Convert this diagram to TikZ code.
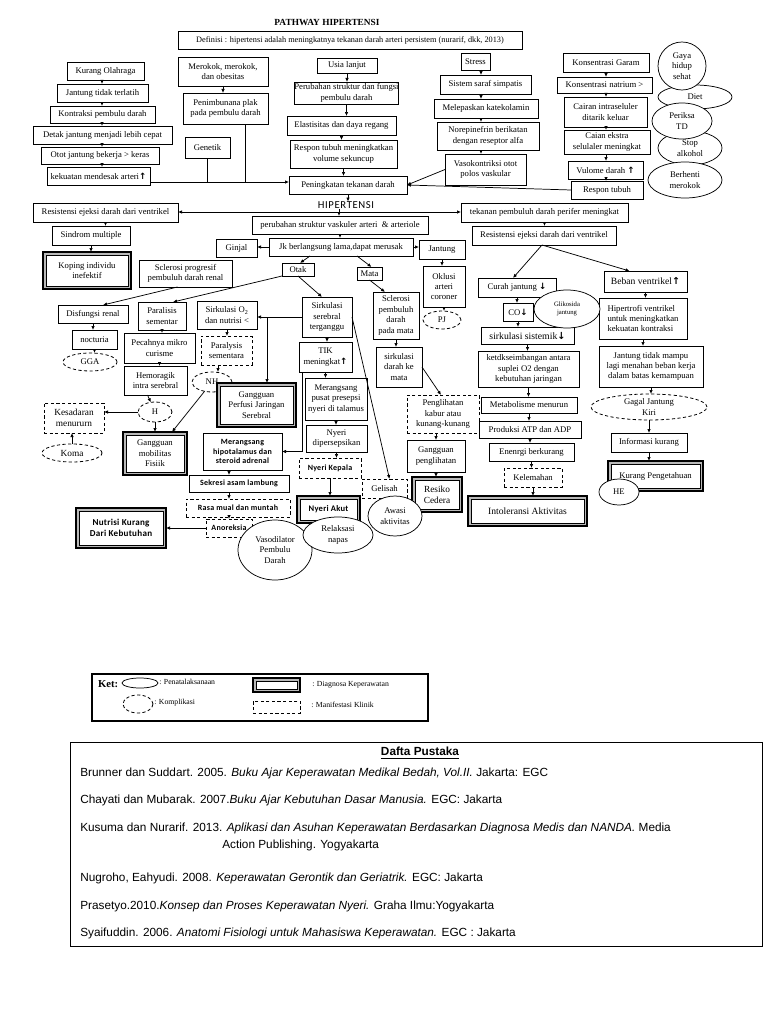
\documentclass[tikz,border=0pt]{standalone}
\usepackage{fontspec}
\setmainfont{Liberation Serif}
\newfontfamily\arial{Liberation Sans}
\newfontfamily\calib[LetterSpace=3]{Carlito}
\newfontfamily\hipf[LetterSpace=6]{Carlito}
\newfontfamily\symf{DejaVu Sans}
\usetikzlibrary{shapes.geometric,arrows.meta,calc}
\newcommand\fs[2]{\fontsize{#1}{#2}\selectfont}
\newcommand\arwup{{\symf\bfseries ↑}}
\newcommand\arwdn{{\symf\bfseries ↓}}
\newcommand\bx[7]{\node[#2,minimum width={(#5-#3)*0.75pt},minimum height={(#6-#4)*0.75pt}] (#1) at ({(#3+#5)/2},{(#4+#6)/2}) {#7};}
\newcommand\el[7]{\node[#2,minimum width={2*#5*0.75pt},minimum height={2*#6*0.75pt}] (#1) at (#3,#4) {#7};}
\newcommand\adn[2]{\draw[arr] (#1.south) -- (#1.south |- #2.north);}
\tikzset{
 base/.style={font=\fs{6.5}{7.8}, align=center, inner sep=0pt, outer sep=0pt},
 box/.style={base, draw, line width=0.55pt, fill=white},
 dbox/.style={base, draw, line width=0.6pt, dash pattern=on 2.4pt off 1.8pt, fill=white},
 dx/.style={base, draw, line width=1.9pt, fill=white,
   path picture={
     \draw[gray!55,line width=1.1pt] ([shift={(1.5pt,-1.5pt)}]path picture bounding box.north west) rectangle ([shift={(-1.5pt,1.5pt)}]path picture bounding box.south east);
     \draw[line width=0.5pt] ([shift={(2.3pt,-2.3pt)}]path picture bounding box.north west) rectangle ([shift={(-2.3pt,2.3pt)}]path picture bounding box.south east);}},
 pen/.style={base, ellipse, draw, line width=0.55pt, fill=white},
 kom/.style={base, ellipse, draw, line width=0.6pt, dash pattern=on 2.4pt off 1.8pt, fill=white},
 bsans/.style={font=\calib\bfseries\fs{6}{7.2}},
 arr/.style={-{Latex[length=3pt,width=2.6pt]}, line width=0.55pt},
 ln/.style={line width=0.55pt},
 bib/.style={font=\arial\fs{8.85}{10}, anchor=west, inner sep=0pt},
 lg/.style={font=\fs{5.8}{7}, anchor=west, inner sep=0pt}
}
\begin{document}
\begin{tikzpicture}[x=0.75pt,y=-0.75pt]
\useasboundingbox (0,0) rectangle (768,1024);
\fill[white] (0,0) rectangle (768,1024);

\node[base,font=\bfseries\fs{7}{8}] (title) at (327,22) {PATHWAY HIPERTENSI};
\bx{def}{box,font=\fs{6.2}{7}}{178}{31}{522}{49}{Definisi : hipertensi adalah meningkatnya tekanan darah arteri persistem (nurarif, dkk, 2013)}

% left chain
\bx{kurang}{box}{67}{62}{144}{80}{Kurang Olahraga}
\bx{jtt}{box}{57}{84}{148}{102}{Jantung tidak terlatih}
\bx{kontraksi}{box}{50}{106}{155}{123}{Kontraksi pembulu darah}
\bx{detak}{box}{33}{126}{172}{144}{Detak jantung menjadi lebih cepat}
\bx{otot}{box}{41}{147}{159}{164}{Otot jantung bekerja > keras}
\bx{kekuatan}{box}{47}{167}{150}{185}{kekuatan mendesak arteri\arwup}
\bx{merokok}{box}{178}{57}{268}{86}{Merokok, merokok,\\dan obesitas}
\bx{penimb}{box}{183}{93}{268}{124}{Penimbunana plak\\pada pembulu darah}
\bx{genetik}{box}{185}{137}{230}{158}{Genetik}
\bx{usia}{box}{317}{58}{377}{73}{Usia lanjut}
\bx{perubahan}{box}{297}{82}{396}{104}{Perubahan struktur dan fungsi\\pembulu darah}
\bx{elast}{box}{287}{116}{396}{135}{Elastisitas dan daya regang}
\bx{respon1}{box}{290}{140}{397}{168}{Respon tubuh meningkatkan\\volume sekuncup}
\bx{pening}{box}{289}{176}{407}{194}{Peningkatan tekanan darah}
\bx{stress}{box}{461}{53}{490}{70}{Stress}
\bx{simpatis}{box}{440}{75}{531}{94}{Sistem saraf simpatis}
\bx{katekol}{box}{434}{99}{538}{118}{Melepaskan katekolamin}
\bx{norep}{box}{437}{122}{539}{150}{Norepinefrin berikatan\\dengan reseptor alfa}
\bx{vaso}{box}{445}{154}{526}{185}{Vasokontriksi otot\\polos vaskular}
\bx{garam}{box}{563}{53}{649}{72}{Konsentrasi Garam}
\bx{natrium}{box}{557}{77}{652}{93}{Konsentrasi natrium >}
\bx{intra}{box}{564}{97}{647}{127}{Cairan intraseluler\\ditarik keluar}
\bx{ekstra}{box}{564}{130}{650}{154}{Caian ekstra\\selulaler meningkat}
\bx{volume}{box}{568}{161}{643}{179}{Vulome darah \arwup}
\bx{respon2}{box}{571}{181}{643}{199}{Respon tubuh}

\node[base,font=\hipf\fs{8}{9}] (hip) at (346,205) {HIPERTENSI};

% middle
\bx{resL}{box}{33}{203}{178}{222}{Resistensi ejeksi darah dari ventrikel}
\bx{tekanan}{box}{461}{203}{628}{222}{tekanan pembuluh darah perifer meningkat}
\bx{resR}{box}{472}{226}{616}{245}{Resistensi ejeksi darah dari ventrikel}
\bx{sindrom}{box}{52}{226}{130}{245}{Sindrom multiple}
\bx{koping}{dx}{43}{252}{131}{289}{Koping individu\\inefektif}
\bx{vask}{box}{252}{216}{428}{234}{perubahan struktur vaskuler arteri \ \& arteriole}
\bx{jk}{box}{269}{238}{413}{256}{Jk berlangsung lama,dapat merusak}
\bx{ginjal}{box}{216}{239}{257}{257}{Ginjal}
\bx{jantung}{box}{419}{240}{465}{259}{Jantung}
\bx{otak}{box}{282}{263}{314}{276}{Otak}
\bx{mata}{box}{357}{267}{382}{280}{Mata}
\bx{oklusi}{box}{423}{266}{465}{307}{Oklusi\\arteri\\coroner}
\el{pj}{kom}{442}{320}{19}{9}{PJ}
\bx{sclren}{box}{139}{260}{232}{287}{Sclerosi progresif\\pembuluh darah renal}
\bx{disf}{box}{58}{305}{128}{323}{Disfungsi renal}
\bx{noct}{box}{72}{330}{117}{349}{nocturia}
\el{gga}{kom}{90}{362}{27}{9}{GGA}
\bx{paralisis}{box}{138}{302}{186}{330}{Paralisis\\sementar}
\bx{sirkO}{box}{197}{301}{257}{329}{Sirkulasi O\textsubscript{2}\\dan nutrisi <}
\bx{pecah}{box}{124}{333}{195}{363}{Pecahnya mikro\\curisme}
\bx{parsem}{dbox}{201}{336}{252}{365}{Paralysis\\sementara}
\bx{hemo}{box}{124}{366}{187}{395}{Hemoragik\\intra serebral}
\el{nh}{kom}{212}{382}{20}{10}{NH}
\el{hh}{kom}{155}{412}{17}{10}{H}
\bx{kesad}{dbox,font=\fs{7}{8.4}}{44}{403}{104}{433}{Kesadaran\\menururn}
\el{koma}{kom,font=\fs{7}{8}}{72}{453}{30}{9}{Koma}
\bx{mobil}{dx}{123}{432}{187}{475}{Gangguan\\mobilitas\\Fisiik}
\bx{perfusi}{dx}{217}{383}{296}{427}{Gangguan\\Perfusi Jaringan\\Serebral}
\bx{sirkser}{box}{302}{297}{352}{337}{Sirkulasi\\serebral\\terganggu}
\bx{tik}{box}{299}{342}{352}{372}{TIK\\meningkat\arwup}
\bx{pusat}{box}{305}{378}{367}{420}{Merangsang\\pusat presepsi\\nyeri di talamus}
\bx{nyeridp}{box}{306}{425}{367}{452}{Nyeri\\dipersepsikan}
\bx{kepala}{dbox,bsans}{299}{458}{361}{478}{Nyeri Kepala}
\bx{hipot}{box,bsans}{203}{433}{282}{470}{Merangsang\\hipotalamus dan\\steroid adrenal}
\bx{sekresi}{box,bsans}{189}{475}{289}{492}{Sekresi asam lambung}
\bx{mual}{dbox,bsans}{186}{499}{290}{517}{Rasa mual dan muntah}
\bx{anor}{dbox,bsans}{206}{519}{252}{537}{Anoreksia}
\bx{nutrisi}{dx,bsans,font=\calib\bfseries\fs{6.8}{8.4}}{76}{508}{166}{548}{Nutrisi Kurang\\Dari Kebutuhan}
\bx{nyeriakut}{dx,bsans,font=\calib\bfseries\fs{6.4}{7.6}}{297}{496}{360}{523}{Nyeri Akut}
\bx{gelisah}{dbox}{362}{479}{407}{498}{Gelisah}
\bx{sclmata}{box}{373}{292}{419}{339}{Sclerosi\\pembuluh\\darah\\pada mata}
\bx{sirkmata}{box}{376}{347}{422}{387}{sirkulasi\\darah ke\\mata}
\bx{kabur}{dbox}{407}{395}{479}{433}{Penglihatan\\kabur atau\\kunang-kunang}
\bx{gpengl}{box}{407}{440}{465}{472}{Gangguan\\penglihatan}
\bx{cedera}{dx,font=\fs{7}{8.4}}{412}{477}{462}{512}{Resiko\\Cedera}

% right
\bx{curah}{box}{478}{278}{556}{297}{Curah jantung \arwdn}
\bx{co}{box}{503}{303}{533}{321}{CO\arwdn}
\bx{sistemik}{box,font=\fs{7.3}{8}}{481}{327}{574}{344}{sirkulasi sistemik\arwdn}
\bx{ketdk}{box}{478}{351}{579}{387}{ketdkseimbangan antara\\suplei O2 dengan\\kebutuhan jaringan}
\bx{metab}{box}{481}{397}{577}{413}{Metabolisme menurun}
\bx{atp}{box}{479}{421}{581}{438}{Produksi ATP dan ADP}
\bx{energi}{box}{489}{443}{574}{461}{Enenrgi berkurang}
\bx{lemah}{dbox}{504}{468}{562}{487}{Kelemahan}
\bx{intol}{dx,font=\fs{7.2}{8}}{468}{496}{587}{526}{Intoleransi Aktivitas}
\bx{beban}{box,font=\fs{7.2}{8}}{604}{271}{687}{292}{Beban ventrikel\arwup}
\bx{hipertrofi}{box,align=left}{599}{298}{687}{339}{Hipertrofi ventrikel\\untuk meningkatkan\\kekuatan kontraksi}
\bx{jtm}{box}{599}{346}{703}{387}{Jantung tidak mampu\\lagi menahan beban kerja\\dalam batas kemampuan}
\el{gagal}{kom}{649}{407}{58}{13}{Gagal Jantung\\Kiri}
\bx{info}{box}{611}{433}{687}{452}{Informasi kurang}
\bx{kurangp}{dx}{608}{461}{703}{491}{Kurang Pengetahuan}

% connectors
\coordinate (xl) at (102,0);
\foreach \p/\q in {kurang/jtt,jtt/kontraksi,kontraksi/detak,detak/otot,otot/kekuatan}
  \draw[arr] (\p.south -| xl) -- (\q.north -| xl);
\adn{merokok}{penimb}
\path (kekuatan.east) ++(0,6) coordinate (kk);
\draw[arr] (kk) -- (kk -| pening.west);
\draw[ln] (genetik.south) -- (genetik.south |- kk);
\coordinate (pb) at ([shift={(20,0)}]penimb.south);
\draw[ln] (pb) -- (pb |- kk);
\adn{usia}{perubahan}
\adn{perubahan}{elast}
\adn{elast}{respon1}
\adn{respon1}{pening}
\coordinate (xs) at (481,0);
\foreach \p/\q in {stress/simpatis,simpatis/katekol,katekol/norep,norep/vaso}
  \draw[arr] (\p.south -| xs) -- (\q.north -| xs);
\draw[arr] (vaso.west) -- (pening.east);
\draw[arr] (respon2.west) -- (pening.east);
\coordinate (xg) at (606,0);
\foreach \p/\q in {garam/natrium,natrium/intra,intra/ekstra,ekstra/volume,volume/respon2}
  \draw[arr] (\p.south -| xg) -- (\q.north -| xg);
\draw[arr] (pening.south) -- (pening.south |- hip.north);
\coordinate (hj) at (346,212);
\draw[arr] (hj) -- (hj -| resL.east);
\draw[arr] (hj) -- (hj -| tekanan.west);
\coordinate (hv) at (339,209);
\draw[arr] (hv) -- (hv |- vask.north);
\adn{vask}{jk}
\draw[arr] (jk.west) -- (jk.west -| ginjal.east);
\draw[arr] (jk.east) -- (jk.east -| jantung.west);
\draw[arr] ([shift={(-31,0)}]jk.south) -- ([shift={(2,0)}]otak.north);
\draw[arr] ([shift={(16,0)}]jk.south) -- ([shift={(2,0)}]mata.north);
\draw[arr] (otak.south west) -- ([shift={(11,0)}]paralisis.north);
\draw[arr] (otak.south) -- ([shift={(-5,0)}]sirkser.north);
\draw[arr] ([shift={(-8,0)}]sclren.south) -- ([shift={(10,0)}]disf.north);
\adn{disf}{noct}
\adn{noct}{gga}
\adn{resL}{sindrom}
\adn{sindrom}{koping}
\adn{paralisis}{pecah}
\adn{pecah}{hemo}
\draw[arr] ([shift={(-8,0)}]hemo.south) -- (hh);
\draw[arr] (hh) -- (hh |- mobil.north);
\draw[arr] (hh.west) -- (hh.west -| kesad.east);
\draw[arr] (koma) -- (koma |- kesad.south);
\draw[arr] (nh) -- ([shift={(-15,0)}]mobil.north east);
\draw[arr] (sirkser.west) -- (sirkser.west -| sirkO.east);
\coordinate (j1) at (267,317);
\draw[arr] (j1) -- (j1 |- perfusi.north);
\adn{sirkO}{parsem}
\coordinate (j2) at (218,365);
\draw[arr] (j2) -- (j2 |- nh.north);
\adn{sirkser}{tik}
\adn{tik}{pusat}
\adn{pusat}{nyeridp}
\adn{nyeridp}{kepala}
\adn{kepala}{nyeriakut}
\draw[arr] ([shift={(3,0)}]tik.south west) |- (hipot.east);
\coordinate (xa) at (229,0);
\foreach \p/\q in {hipot/sekresi,sekresi/mual,mual/anor}
  \draw[arr] (\p.south -| xa) -- (\q.north -| xa);
\draw[arr] (anor.west) -- (anor.west -| nutrisi.east);
\draw[arr] (sirkser.east) -- ([shift={(5,0)}]gelisah.north);
\draw[arr] (mata.south) -- ([shift={(-11,0)}]sclmata.north);
\adn{sclmata}{sirkmata}
\draw[arr] (sirkmata.east) -- ([shift={(-2,0)}]kabur.north);
\draw[arr] (kabur.south -| gpengl) -- (gpengl.north);
\adn{gpengl}{cedera}
\adn{jantung}{oklusi}
\adn{oklusi}{pj}
\adn{tekanan}{resR}
\coordinate (rr) at ([shift={(-2,0)}]resR.south);
\draw[arr] (rr) -- ([shift={(-4,0)}]curah.north);
\draw[arr] (rr) -- ([shift={(-16,0)}]beban.north);
\adn{curah}{co}
\adn{co}{sistemik}
\adn{sistemik}{ketdk}
\adn{ketdk}{metab}
\adn{metab}{atp}
\adn{atp}{energi}
\adn{energi}{lemah}
\adn{lemah}{intol}
\adn{beban}{hipertrofi}
\adn{hipertrofi}{jtm}
\adn{jtm}{gagal}
\draw[arr] (gagal) -- (gagal |- info.north);
\adn{info}{kurangp}

% penatalaksanaan ellipses (on top)
\el{diet}{pen}{695}{97}{37}{12}{Diet}
\el{gaya}{pen}{682}{66}{24}{24}{Gaya\\hidup\\sehat}
\el{stop}{pen}{690}{148}{32}{17}{Stop\\alkohol}
\el{berhenti}{pen}{685}{180}{37}{18}{Berhenti\\merokok}
\el{periksa}{pen}{682}{121}{30}{18}{Periksa\\TD}
\el{glik}{pen,font=\fs{5}{6}}{567}{309}{33}{19}{Glikosida\\jantung}
\el{he}{pen}{619}{492}{20}{13}{HE}
\el{vasod}{pen}{275}{550}{37}{30}{Vasodilator\\Pembulu\\Darah}
\el{relaks}{pen}{338}{535}{35}{18}{Relaksasi\\napas}
\el{awasi}{pen}{395}{516}{27}{20}{Awasi\\aktivitas}

% legend
\draw[line width=0.8pt] (92,674) rectangle (428,721);
\node[base,font=\bfseries\fs{8}{9},anchor=west] (ket) at (98,684) {Ket:};
\el{lgpen}{pen}{140}{683}{18}{5}{}
\node[lg] (lt1) at (159,682) {: Penatalaksanaan};
\bx{lgdx}{dx}{253}{678}{300}{692}{}
\node[lg] (lt2) at (312,685) {: Diagnosa Keperawatan};
\el{lgkom}{kom}{138}{704}{15}{9}{}
\node[lg] (lt3) at (154,703) {: Komplikasi};
\bx{lgman}{dbox}{253}{701}{300}{713}{}
\node[lg] (lt4) at (311,705) {: Manifestasi Klinik};

% bibliography
\draw[line width=0.6pt] (70,742) rectangle (762,946);
\node[font=\arial\bfseries\fs{8.85}{10},inner sep=0pt] (dp) at (420,753) {\underline{Dafta Pustaka}};
\node[bib] (b1) at (80,773) {Brunner dan Suddart. 2005. \textit{Buku Ajar Keperawatan Medikal Bedah, Vol.II.} Jakarta: EGC};
\node[bib] (b2) at (80,800) {Chayati dan Mubarak. 2007.\textit{Buku Ajar Kebutuhan Dasar Manusia.} EGC: Jakarta};
\node[bib] (b3) at (80,828) {Kusuma dan Nurarif. 2013. \textit{Aplikasi dan Asuhan Keperawatan Berdasarkan Diagnosa Medis dan NANDA.} Media};
\node[bib] (b3b) at (222,845) {Action Publishing. Yogyakarta};
\node[bib] (b4) at (80,878) {Nugroho, Eahyudi. 2008. \textit{Keperawatan Gerontik dan Geriatrik.} EGC: Jakarta};
\node[bib] (b5) at (80,906) {Prasetyo.2010.\textit{Konsep dan Proses Keperawatan Nyeri.} Graha Ilmu:Yogyakarta};
\node[bib] (b6) at (80,933) {Syaifuddin. 2006. \textit{Anatomi Fisiologi untuk Mahasiswa Keperawatan.} EGC : Jakarta};
\end{tikzpicture}
\end{document}
